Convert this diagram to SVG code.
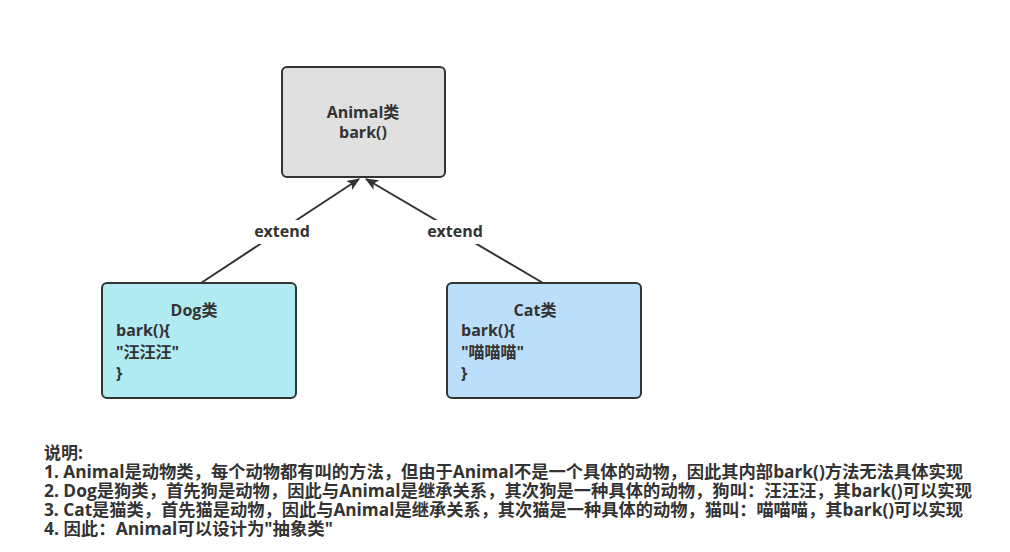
<svg xmlns="http://www.w3.org/2000/svg" width="1010" height="552" viewBox="0 0 1010 552">
<defs>
<style>
.box{stroke:#333;stroke-width:2}
.t{font-family:"Open Sans","Noto Sans CJK SC",sans-serif;font-weight:bold;fill:#333;font-size:16px}
.edge{stroke:#333;stroke-width:2;fill:none}
.lbl{font-family:"Open Sans","Noto Sans CJK SC",sans-serif;font-weight:bold;fill:#333;font-size:16px;text-anchor:middle}
.note{font-family:"Open Sans","Noto Sans CJK SC",sans-serif;font-weight:bold;fill:#333;font-size:17px}
</style>
<marker id="arr" viewBox="0 0 12 10" refX="11" refY="5" markerWidth="13" markerHeight="11" markerUnits="userSpaceOnUse" orient="auto">
<path d="M0,0 L12,5 L0,10 L3,5 z" fill="#333"/>
</marker>
</defs>
<rect width="1010" height="552" fill="#fff"/>
<g id="connectors">
<line class="edge" x1="201" y1="283" x2="359" y2="179" marker-end="url(#arr)"/>
<line class="edge" x1="543" y1="283" x2="366" y2="179" marker-end="url(#arr)"/>
<rect x="250" y="220" width="64" height="24" fill="#fff"/>
<text class="lbl" x="282" y="237">extend</text>
<rect x="423" y="220" width="64" height="24" fill="#fff"/>
<text class="lbl" x="455" y="237">extend</text>
</g>
<g id="animal">
<rect class="box" x="282" y="67" width="163" height="110" rx="5" fill="#e0e0e0"/>
<text class="t" x="363" y="118" text-anchor="middle">Animal类</text>
<text class="t" x="363" y="138" text-anchor="middle">bark()</text>
</g>
<g id="dog">
<rect class="box" x="102" y="283" width="194" height="115" rx="5" fill="#b0ebf2"/>
<text class="t" x="194" y="316" text-anchor="middle">Dog类</text>
<text class="t" x="116" y="336">bark(){</text>
<text class="t" x="116" y="358">"汪汪汪"</text>
<text class="t" x="116" y="379">}</text>
</g>
<g id="cat">
<rect class="box" x="447" y="283" width="194" height="115" rx="5" fill="#bbdefb"/>
<text class="t" x="535" y="316" text-anchor="middle">Cat类</text>
<text class="t" x="461" y="336">bark(){</text>
<text class="t" x="461" y="358">"喵喵喵"</text>
<text class="t" x="461" y="379">}</text>
</g>
<g id="notes">
<text class="note" x="44" y="459">说明:</text>
<text class="note" x="44" y="478" textLength="919" lengthAdjust="spacingAndGlyphs">1. Animal是动物类，每个动物都有叫的方法，但由于Animal不是一个具体的动物，因此其内部bark()方法无法具体实现</text>
<text class="note" x="44" y="497" textLength="928" lengthAdjust="spacingAndGlyphs">2. Dog是狗类，首先狗是动物，因此与Animal是继承关系，其次狗是一种具体的动物，狗叫：汪汪汪，其bark()可以实现</text>
<text class="note" x="44" y="516" textLength="919" lengthAdjust="spacingAndGlyphs">3. Cat是猫类，首先猫是动物，因此与Animal是继承关系，其次猫是一种具体的动物，猫叫：喵喵喵，其bark()可以实现</text>
<text class="note" x="44" y="535" textLength="289" lengthAdjust="spacingAndGlyphs">4. 因此：Animal可以设计为"抽象类"</text>
</g>
</svg>
